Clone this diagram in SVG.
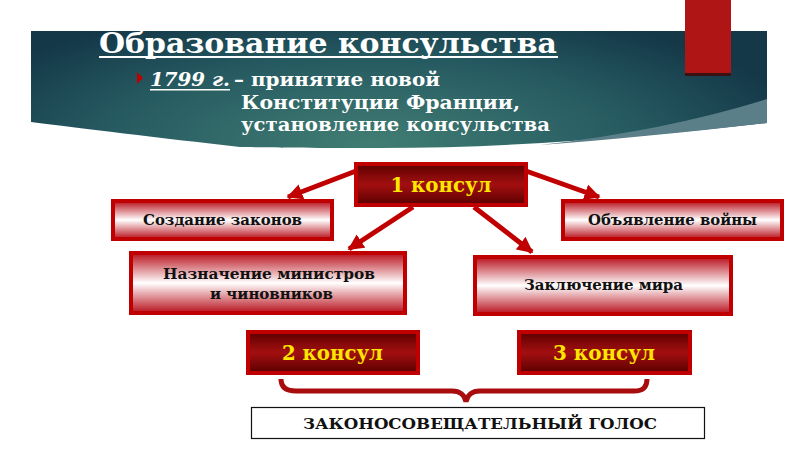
<svg xmlns="http://www.w3.org/2000/svg" width="800" height="449" viewBox="0 0 800 449">
<defs>
<radialGradient id="bannerG" cx="0.45" cy="1" r="0.75" gradientTransform="translate(0.1,0) scale(0.8,1.6) translate(0,-0.4)">
<stop offset="0" stop-color="#417d73"/>
<stop offset="0.6" stop-color="#265a61"/>
<stop offset="1" stop-color="#143848"/>
</radialGradient>
<linearGradient id="boxG" x1="0" y1="0" x2="0" y2="1">
<stop offset="0" stop-color="#b8101c"/>
<stop offset="0.5" stop-color="#ffffff"/>
<stop offset="1" stop-color="#b8101c"/>
</linearGradient>
<linearGradient id="conG" x1="0" y1="0" x2="0" y2="1">
<stop offset="0" stop-color="#5c0000"/>
<stop offset="0.5" stop-color="#a30f10"/>
<stop offset="1" stop-color="#5c0000"/>
</linearGradient>
<marker id="ah" viewBox="0 0 10 10" refX="9" refY="5" markerWidth="3.2" markerHeight="3.2" orient="auto" markerUnits="strokeWidth">
<path d="M0,0 L10,5 L0,10 Z" fill="#c00000"/>
</marker>
<style>
.box{fill:url(#boxG);stroke:#c00000;stroke-width:4}
.con{fill:url(#conG);stroke:#c00000;stroke-width:4}
.bt{font-family:"DejaVu Serif",serif;font-size:14.5px;font-weight:bold;fill:#111;text-anchor:middle}
.ct{font-family:"DejaVu Serif",serif;font-size:20px;font-weight:bold;fill:#ffe600;text-anchor:middle}
.wt{font-family:"DejaVu Serif","Liberation Serif",serif;fill:#ffffff;font-weight:bold}
.arr{stroke:#c00000;stroke-width:5;fill:none;marker-end:url(#ah)}
</style>
</defs>
<rect width="800" height="449" fill="#ffffff"/>
<g id="banner">
<path d="M31,31 H767 V123 C 650,136 520,148 380,148 C 300,148 250,147 240,147 C 160,138 80,128 31,122 Z" fill="url(#bannerG)"/>
<path d="M540,145 C 620,136 700,120 767,99 V123 C 690,132 610,140 540,145 Z" fill="#5b7f88"/>
<rect x="685" y="0" width="46" height="73" fill="#b01515"/>
<rect x="685" y="73" width="46" height="3" fill="#3a1010"/>
<text class="wt" x="99" y="53" font-size="27" textLength="458" lengthAdjust="spacingAndGlyphs">Образование консульства</text>
<rect x="99" y="56" width="459" height="2" fill="#ffffff"/>
<path d="M137,72 L143,78 L137,84 Z" fill="#c00000"/>
<text class="wt" x="150" y="86" font-size="18" font-style="italic" textLength="80" lengthAdjust="spacingAndGlyphs">1799 г.</text>
<rect x="150" y="89" width="80" height="1.5" fill="#ffffff"/>
<text class="wt" x="234" y="86" font-size="18" textLength="206" lengthAdjust="spacingAndGlyphs">– принятие новой</text>
<text class="wt" x="241" y="109" font-size="18" textLength="279" lengthAdjust="spacingAndGlyphs">Конституции Франции,</text>
<text class="wt" x="241" y="131" font-size="18" textLength="309" lengthAdjust="spacingAndGlyphs">установление консульства</text>
</g>
<g id="connectors">
<line class="arr" x1="356" y1="171" x2="288" y2="197"/>
<line class="arr" x1="526" y1="171" x2="599" y2="197"/>
<line class="arr" x1="413" y1="207" x2="349" y2="249"/>
<line class="arr" x1="474" y1="207" x2="532" y2="252"/>
<path d="M281,379 C281,386 285,391 296,391 L452,391 C460,391 465,395 466,402 C467,395 472,391 480,391 L634,391 C644,391 647,386 647,379" fill="none" stroke="#a80c0c" stroke-width="5"/>
</g>
<g id="consul1">
<rect class="con" x="356" y="164" width="170" height="41"/>
<text class="ct" x="441" y="192" textLength="101" lengthAdjust="spacingAndGlyphs">1 консул</text>
</g>
<g id="lawmaking">
<rect class="box" x="113" y="201" width="219" height="38"/>
<text class="bt" x="222.5" y="225" textLength="159" lengthAdjust="spacingAndGlyphs">Создание законов</text>
</g>
<g id="war">
<rect class="box" x="563" y="201" width="219" height="38"/>
<text class="bt" x="672.5" y="225" textLength="169" lengthAdjust="spacingAndGlyphs">Объявление войны</text>
</g>
<g id="appoint">
<rect class="box" x="131" y="253" width="274" height="60"/>
<text class="bt" x="269" y="279" textLength="212" lengthAdjust="spacingAndGlyphs">Назначение  министров</text>
<text class="bt" x="271.5" y="299" textLength="123" lengthAdjust="spacingAndGlyphs">и чиновников</text>
</g>
<g id="peace">
<rect class="box" x="475" y="257" width="256" height="57"/>
<text class="bt" x="603.5" y="290" textLength="159" lengthAdjust="spacingAndGlyphs">Заключение мира</text>
</g>
<g id="consul2">
<rect class="con" x="248" y="332" width="170" height="41"/>
<text class="ct" x="332.5" y="360" textLength="101" lengthAdjust="spacingAndGlyphs">2 консул</text>
</g>
<g id="consul3">
<rect class="con" x="519" y="332" width="171" height="41"/>
<text class="ct" x="604" y="360" textLength="102" lengthAdjust="spacingAndGlyphs">3 консул</text>
</g>
<g id="vote">
<rect x="251.5" y="407.5" width="453" height="31" fill="#ffffff" stroke="#111" stroke-width="1.2"/>
<text class="bt" x="480" y="429" font-size="15" textLength="354" lengthAdjust="spacingAndGlyphs">ЗАКОНОСОВЕЩАТЕЛЬНЫЙ ГОЛОС</text>
</g>
</svg>
